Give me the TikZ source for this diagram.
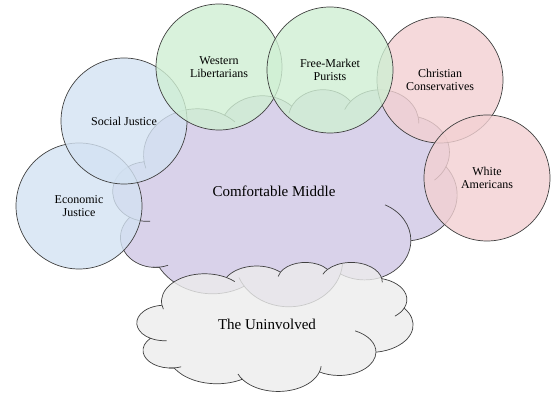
\documentclass[tikz,border=0pt]{standalone}
\usepackage{fontspec}
\setmainfont{Liberation Serif}
\definecolor{groupblue}{RGB}{211,226,242}
\definecolor{groupgreen}{RGB}{207,239,211}
\definecolor{grouppink}{RGB}{242,208,210}
\definecolor{middlefill}{RGB}{217,210,234}
\definecolor{uninvfill}{RGB}{236,236,236}
\definecolor{edge}{RGB}{64,64,64}
% cloud outline in a 4320 x 4320 box
\newcommand\cloudoutline{(390,1437)
  arc[start angle=172.25,end angle=300.36,x radius=675.3,y radius=919.0]
  arc[start angle=-152.02,end angle=-45.44,x radius=533.3,y radius=726.7]
  arc[start angle=-153.49,end angle=-37.33,x radius=436.5,y radius=594.5]
  arc[start angle=-139.71,end angle=-10.22,x radius=485.7,y radius=659.5]
  arc[start angle=-74.77,end angle=23.22,x radius=533.3,y radius=727.3]
  arc[start angle=-37.52,end angle=81.86,x radius=677.5,y radius=922.0]
  arc[start angle=0.46,end angle=121.99,x radius=578.5,y radius=786.7]
  arc[start angle=16.85,end angle=146.22,x radius=675.2,y radius=921.5]
  arc[start angle=58.97,end angle=150.18,x radius=772.0,y radius=1054.3]
  arc[start angle=83.31,end angle=223.12,x radius=436.0,y radius=591.8]
  arc[start angle=120.36,end angle=264.11,x radius=434.5,y radius=594.5]
  -- cycle}
% short inner arcs at the dents
\newcommand\cloudinner{%
  \foreach \cx/\cy/\rx/\ry/\ta/\tb in {
    431.0/2041.8/434.5/594.5/85.54/120.36,
    529.5/2959.3/436.0/591.8/68.23/93.73,
    2209.3/3413.8/675.2/921.5/146.22/158.47,
    2209.3/3413.8/675.2/921.5/4.73/16.85,
    3162.0/3013.8/578.5/786.7/-64.03/0.46,
    3691.9/1259.1/533.3/727.3/23.22/49.65,
    3354.0/674.3/485.7/659.5/-10.22/0.82,
    3354.0/674.3/485.7/659.5/-156.29/-139.71,
    2636.4/608.4/436.5/594.5/-167.72/-153.49,
    1059.2/1313.0/675.3/919.0/-59.64/-45.74,
    1059.2/1313.0/675.3/919.0/163.19/172.25}
    \draw ({\cx+\rx*cos(\ta)},{\cy+\ry*sin(\ta)})
      arc[start angle=\ta,end angle=\tb,x radius=\rx,y radius=\ry];}
\begin{document}
\begin{tikzpicture}[x=1pt,y=-1pt,
  group/.style={circle,draw=edge,line width=0.7pt,minimum size=126pt,inner sep=0pt,
    fill opacity=0.8,text opacity=1,align=center,font=\fontsize{12}{13.5}\selectfont},
  cloudlabel/.style={font=\fontsize{15}{18}\selectfont}]
\useasboundingbox (0,0) rectangle (552,414);
% comfortable middle
\begin{scope}[shift={(113pt,-89pt)},x=0.07963pt,y=-0.05023pt,draw=edge,line width=0.7pt]
\filldraw[fill=middlefill] \cloudoutline;
\cloudinner
\end{scope}
% groups
\node[group,fill=groupblue] (econ) at (79,206) {Economic\\Justice};
\node[group,fill=groupblue] (social) at (124,121) {Social Justice};
\node[group,fill=groupgreen] (western) at (219,67) {Western\\Libertarians};
\node[group,fill=grouppink] (christian) at (440,80) {Christian\\Conservatives};
\node[group,fill=groupgreen] (market) at (330,70) {Free-Market\\Purists};
\node[group,fill=grouppink] (white) at (487,178) {White\\Americans};
% the uninvolved
\begin{scope}[shift={(137pt,-262pt)},x=0.06389pt,y=-0.02986pt,draw=edge,line width=0.7pt]
\filldraw[fill=uninvfill,fill opacity=0.8] \cloudoutline;
\cloudinner
\end{scope}
\node[cloudlabel] (middle) at (274,191) {Comfortable Middle};
\node[cloudlabel] (uninvolved) at (267,324) {The Uninvolved};
\end{tikzpicture}
\end{document}
